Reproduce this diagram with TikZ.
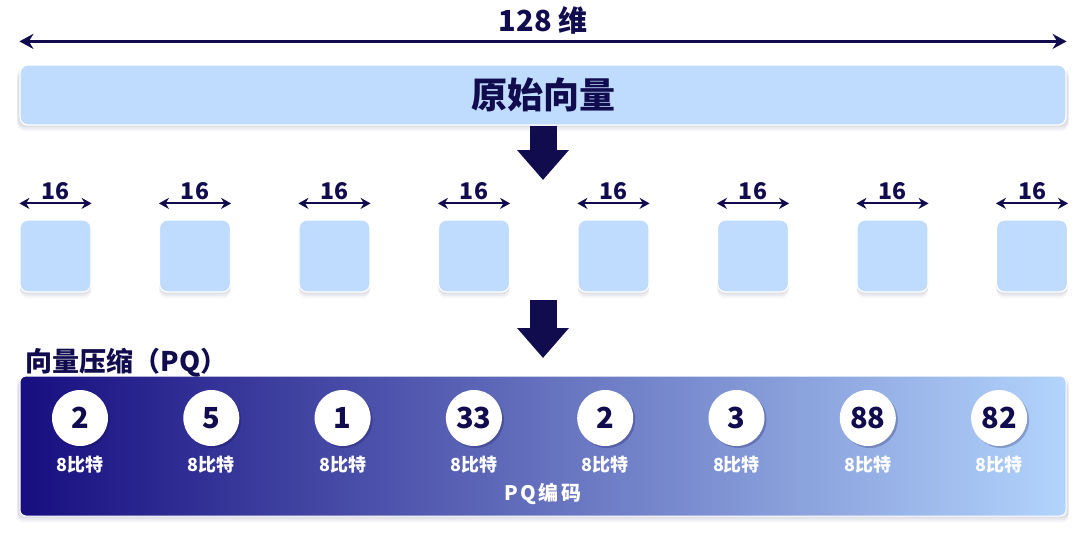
\documentclass[tikz,border=0pt]{standalone}
\usepackage{fontspec}
\newfontfamily\cjk{Noto Sans CJK SC}
\usetikzlibrary{positioning, arrows.meta, shadows}
\definecolor{navy}{HTML}{100C4E}
\definecolor{cellblue}{HTML}{BFDBFD}
\definecolor{pqdark}{HTML}{170E80}
\definecolor{pqlight}{HTML}{B2D4FC}
\tikzset{
	soft/.style={general shadow={fill=navy, opacity=.05, shadow yshift=-2pt, shadow scale=1.005},
		general shadow={fill=navy, opacity=.05, shadow yshift=-4pt, shadow scale=1.005},
		general shadow={fill=navy, opacity=.04, shadow yshift=-6pt, shadow scale=1.005}},
	vecbox/.style={rounded corners=8pt, fill=cellblue, draw=white, line width=1.2pt, soft},
	cell/.style={vecbox, minimum width=71pt, minimum height=72pt},
	pqbox/.style={rounded corners=6pt, left color=pqdark, right color=pqlight, draw=white, line width=1pt, soft},
	dim/.style={navy, line width=2pt, {Stealth[length=10pt,width=11pt]}-{Stealth[length=10pt,width=11pt]}},
	widearrow/.style={navy, line width=2.5pt, {Stealth[length=14pt,width=15pt]}-{Stealth[length=14pt,width=15pt]}},
	blockarrow/.style={navy, line width=27pt, -{Triangle[length=30pt,width=50pt]}},
	code/.style={circle, fill=white, minimum size=56pt, inner sep=0pt, text=navy,
		font=\cjk\bfseries\fontsize{29}{29}\selectfont,
		general shadow={fill=navy, opacity=.25, shadow xshift=2pt, shadow yshift=-2pt}},
	bits/.style={text=white, font=\cjk\bfseries\fontsize{18}{18}\selectfont},
	title/.style={text=navy, font=\cjk\bfseries\fontsize{#1}{#1}\selectfont}
}

\begin{document}
\begin{tikzpicture}[x=1pt, y=-1pt]
\useasboundingbox (0,0) rectangle (1080,538);

% original vector
\node[vecbox, minimum width=1046pt, minimum height=60pt, title=36] (vec) at (543,95) {原始向量};
\draw[widearrow] ([yshift=23pt]vec.north west) -- ([yshift=23pt]vec.north east);
\node[title=29] (width) at (543,20) {128 维};

\coordinate (down1) at (543,180);
\draw[blockarrow] (vec.south) -- (down1);

% sub vectors
\foreach \i in {0,...,7} {
	\node[cell] (s\i) at (55.5+139.5*\i,256) {};
	\draw[dim] ([yshift=16pt]s\i.north west) -- ([yshift=16pt]s\i.north east)
		node[midway, above=-1pt, title=23] (w\i) {16};
}

\coordinate (down2a) at (543,300);
\coordinate (down2b) at (543,358);
\draw[blockarrow] (down2a) -- (down2b);

% PQ codes
\node[pqbox, minimum width=1046pt, minimum height=140pt] (pq) at (543,446) {};
\node[title=27, anchor=base west] (pqtitle) at (22,371) {向量压缩（PQ）};
\foreach \v [count=\i from 0] in {2,5,1,33,2,3,88,82} {
	\node[code] (c\i) at (80+131.3*\i,418) {\v};
	\node[bits] (b\i) at (80+131.3*\i,465) {8比特};
}
\node[bits, font=\cjk\bfseries\fontsize{20}{20}\selectfont] (pqcode) at (543,494) {\addfontfeature{LetterSpace=12}PQ编码};
\end{tikzpicture}
\end{document}
